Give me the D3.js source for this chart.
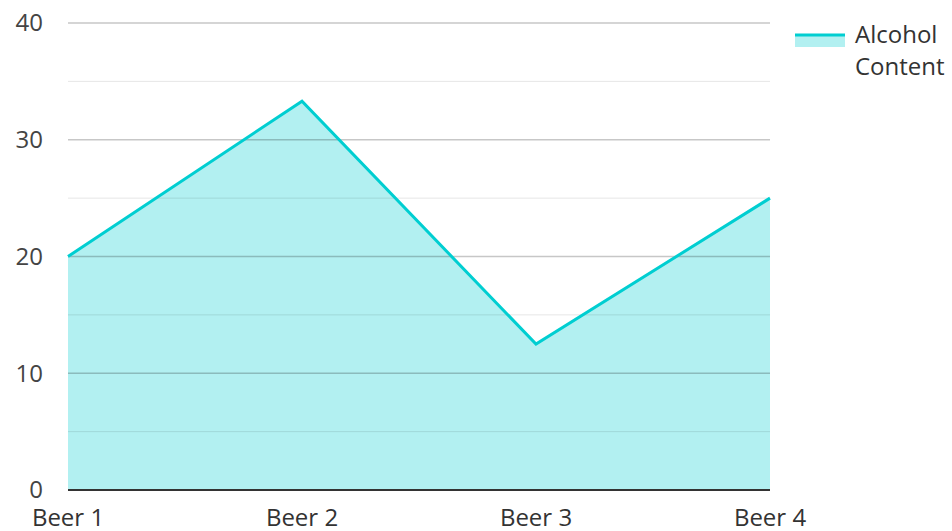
<!DOCTYPE html>
<html><head><meta charset="utf-8">
<script src="https://cdn.jsdelivr.net/npm/d3@7"></script>
<style>body{margin:0;background:#fff}svg{display:block;font-family:"Open Sans","Noto Sans",sans-serif}</style>
</head><body><svg id="c" width="952" height="531"></svg>
<script>
const categories = ["Beer 1", "Beer 2", "Beer 3", "Beer 4"];
const alcoholContent = [20, 33.3, 12.5, 25];
const yTicks = [0, 10, 20, 30, 40];
const yMinorTicks = [5, 15, 25, 35];
const seriesName = ["Alcohol", "Content"];

const svg = d3.select("#c");
const m = {l: 68, r: 770, t: 23, b: 490};
const x = d3.scalePoint().domain(categories).range([m.l, m.r]);
const y = d3.scaleLinear().domain([0, 40]).range([m.b, m.t]);
const color = "#00CED1";

// area
svg.append("path").datum(alcoholContent)
  .attr("d", d3.area().x((d,i)=>x(categories[i])).y0(y(0)).y1(d=>y(d)))
  .attr("fill", color).attr("fill-opacity", 0.3);

// gridlines
svg.append("g").selectAll("line").data(yMinorTicks).join("line")
  .attr("x1", m.l).attr("x2", m.r).attr("y1", d=>y(d)).attr("y2", d=>y(d))
  .attr("stroke", "#000").attr("stroke-opacity", 0.1).attr("stroke-width", 1);
svg.append("g").selectAll("line").data(yTicks.filter(d=>d>0)).join("line")
  .attr("x1", m.l).attr("x2", m.r).attr("y1", d=>y(d)).attr("y2", d=>y(d))
  .attr("stroke", "#000").attr("stroke-opacity", 0.22).attr("stroke-width", 1.5);

// line
svg.append("path").datum(alcoholContent)
  .attr("d", d3.line().x((d,i)=>x(categories[i])).y(d=>y(d)))
  .attr("fill", "none").attr("stroke", color).attr("stroke-width", 3).attr("stroke-linejoin", "miter");

// x axis line
svg.append("line").attr("x1", m.l).attr("x2", m.r).attr("y1", y(0)).attr("y2", y(0))
  .attr("stroke", "#333").attr("stroke-width", 2);

// y tick labels
svg.append("g").selectAll("text").data(yTicks).join("text")
  .attr("x", 43).attr("y", d=>y(d)).attr("dy", "0.35em").attr("text-anchor", "end")
  .attr("font-size", 24).attr("fill", "#444").text(d=>d);

// x labels
svg.append("g").selectAll("text").data(categories).join("text")
  .attr("x", d=>x(d)).attr("y", 526).attr("text-anchor", "middle")
  .attr("font-size", 24).attr("fill", "#333").text(d=>d);

// legend
const lg = svg.append("g");
lg.append("rect").attr("x", 795).attr("y", 35).attr("width", 50).attr("height", 12)
  .attr("fill", color).attr("fill-opacity", 0.3);
lg.append("line").attr("x1", 795).attr("x2", 845).attr("y1", 35).attr("y2", 35)
  .attr("stroke", color).attr("stroke-width", 3);
lg.selectAll("text").data(seriesName).join("text")
  .attr("x", 855).attr("y", (d,i)=>35+i*32).attr("dy", "0.35em")
  .attr("font-size", 24).attr("fill", "#333").text(d=>d);
</script></body></html>
